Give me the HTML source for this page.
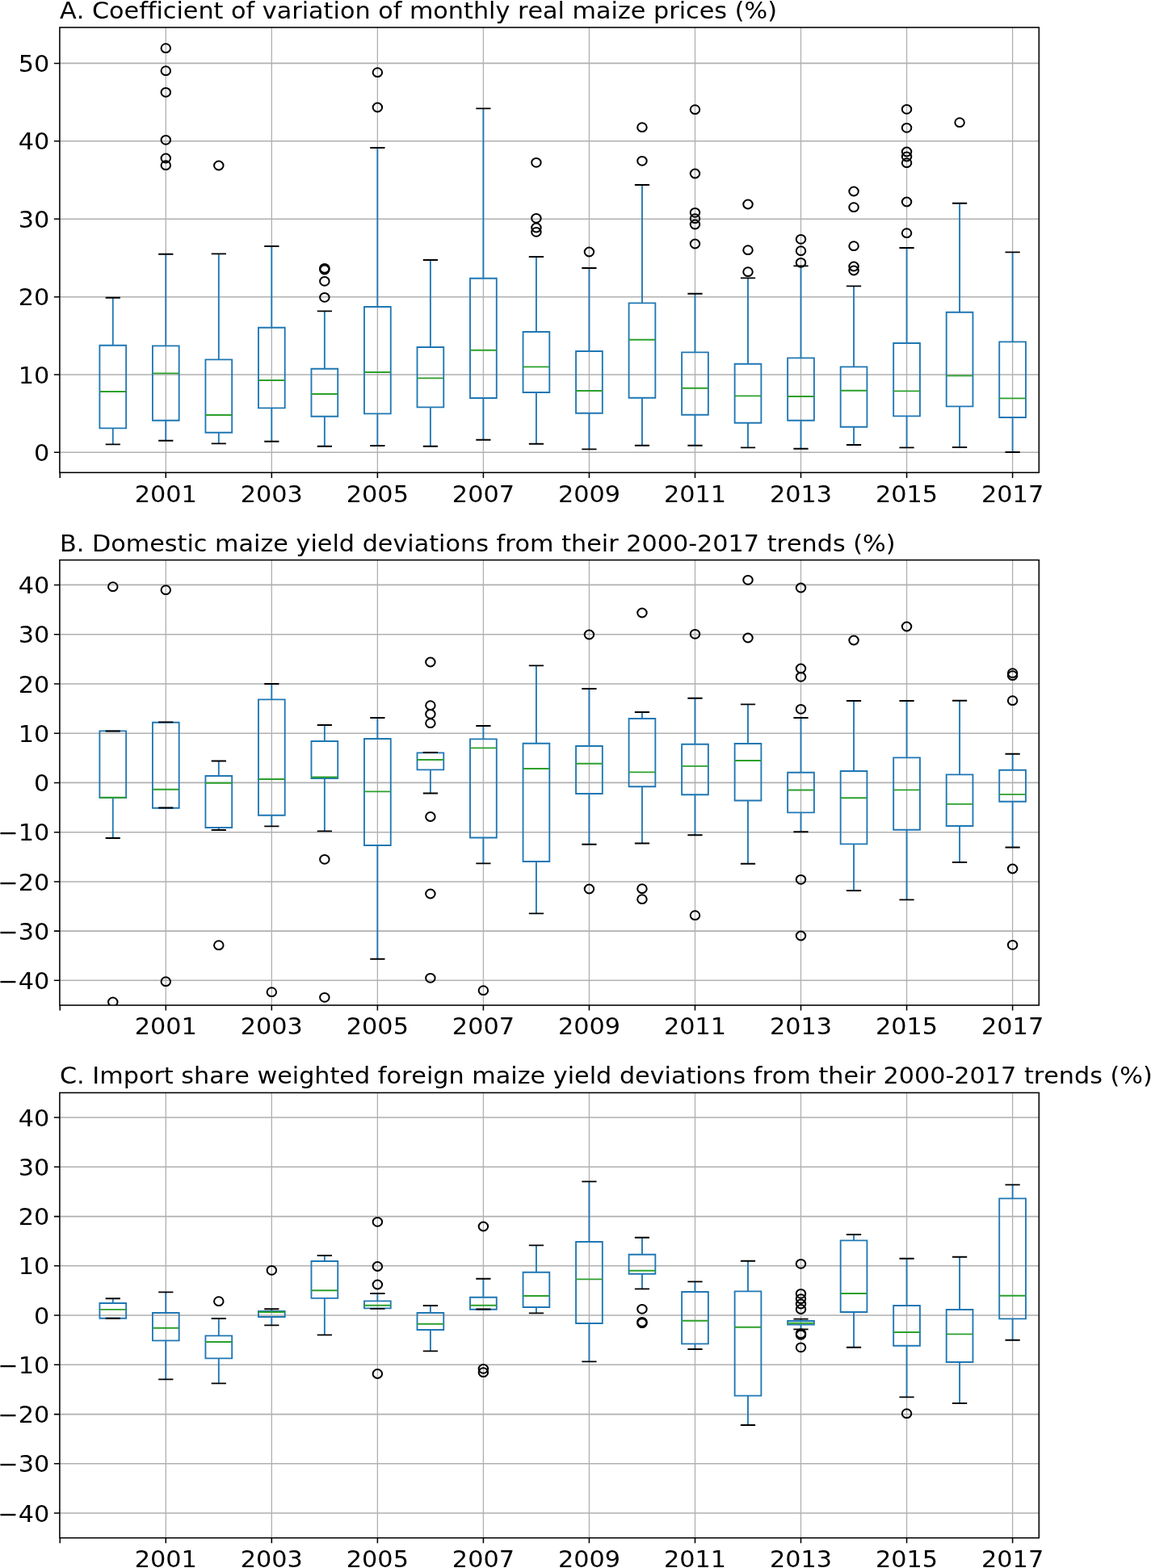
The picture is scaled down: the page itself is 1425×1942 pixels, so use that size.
<!DOCTYPE html>
<html lang="en"><head><meta charset="utf-8"><title>Maize price and yield boxplots</title>
<style>html,body{margin:0;padding:0;background:#fff}body{width:1425px;height:1942px;overflow:hidden}svg{display:block}text{font-family:"DejaVu Sans","Liberation Sans",sans-serif;font-size:28.5px;fill:#000;font-variant-ligatures:none;font-feature-settings:"liga" 0,"clig" 0;font-kerning:none}</style></head><body>
<svg width="1425" height="1942" viewBox="0 0 1425 1942">
<rect width="1425" height="1942" fill="#fff"/>
<g>
<clipPath id="clip0"><rect x="73.9" y="34" width="1212.4" height="551.3"/></clipPath>
<path d="M205.29 34V585.3M336.33 34V585.3M467.37 34V585.3M598.41 34V585.3M729.45 34V585.3M860.49 34V585.3M991.53 34V585.3M1122.57 34V585.3M1253.61 34V585.3" stroke="#b0b0b0" stroke-width="1.3" fill="none"/>
<path d="M73.9 560.3H1286.3M73.9 464H1286.3M73.9 367.7H1286.3M73.9 271.2H1286.3M73.9 174.8H1286.3M73.9 78.4H1286.3" stroke="#b0b0b0" stroke-width="1.6" fill="none"/>
<g clip-path="url(#clip0)" fill="none">
<path d="M123.39 530.3H156.15V427.7H123.39ZM139.77 530.3V550.3M139.77 427.7V368.7M188.91 520.7H221.67V428.3H188.91ZM205.29 520.7V545.7M205.29 428.3V314.7M254.43 535.7H287.19V445.3H254.43ZM270.81 535.7V549.3M270.81 445.3V314.3M319.95 505.3H352.71V405.7H319.95ZM336.33 505.3V546.7M336.33 405.7V305M385.47 515.7H418.23V456.7H385.47ZM401.85 515.7V552.7M401.85 456.7V385.3M450.99 512.3H483.75V380H450.99ZM467.37 512.3V552M467.37 380V183M516.51 504.3H549.27V430H516.51ZM532.89 504.3V552.7M532.89 430V322M582.03 493H614.79V344.7H582.03ZM598.41 493V544.7M598.41 344.7V134.3M647.55 486H680.31V411H647.55ZM663.93 486V549.7M663.93 411V318M713.07 511.7H745.83V435H713.07ZM729.45 511.7V556.3M729.45 435V332M778.59 492.7H811.35V375.3H778.59ZM794.97 492.7V551.7M794.97 375.3V229M844.11 513.7H876.87V436.3H844.11ZM860.49 513.7V551.7M860.49 436.3V363.7M909.63 523.7H942.39V450.7H909.63ZM926.01 523.7V554.3M926.01 450.7V344.3M975.15 520.7H1007.91V443.3H975.15ZM991.53 520.7V555.7M991.53 443.3V329.3M1040.67 528.7H1073.43V454.3H1040.67ZM1057.05 528.7V551M1057.05 454.3V354.3M1106.19 515.3H1138.95V425H1106.19ZM1122.57 515.3V554.3M1122.57 425V307M1171.71 503.3H1204.47V386.7H1171.71ZM1188.09 503.3V554M1188.09 386.7V251.7M1237.23 517H1269.99V423.3H1237.23ZM1253.61 517V560M1253.61 423.3V312.3" stroke="#1f77b4" stroke-width="1.85" stroke-linejoin="miter"/>
<path d="M131.58 550.3H147.96M131.58 368.7H147.96M197.1 545.7H213.48M197.1 314.7H213.48M262.62 549.3H279M262.62 314.3H279M328.14 546.7H344.52M328.14 305H344.52M393.66 552.7H410.04M393.66 385.3H410.04M459.18 552H475.56M459.18 183H475.56M524.7 552.7H541.08M524.7 322H541.08M590.22 544.7H606.6M590.22 134.3H606.6M655.74 549.7H672.12M655.74 318H672.12M721.26 556.3H737.64M721.26 332H737.64M786.78 551.7H803.16M786.78 229H803.16M852.3 551.7H868.68M852.3 363.7H868.68M917.82 554.3H934.2M917.82 344.3H934.2M983.34 555.7H999.72M983.34 329.3H999.72M1048.86 551H1065.24M1048.86 354.3H1065.24M1114.38 554.3H1130.76M1114.38 307H1130.76M1179.9 554H1196.28M1179.9 251.7H1196.28M1245.42 560H1261.8M1245.42 312.3H1261.8" stroke="#000" stroke-width="1.85" stroke-linecap="square"/>
<path d="M123.39 485H156.15M188.91 462.3H221.67M254.43 514H287.19M319.95 471H352.71M385.47 488H418.23M450.99 461H483.75M516.51 468.3H549.27M582.03 433.7H614.79M647.55 454.3H680.31M713.07 484H745.83M778.59 420.7H811.35M844.11 480.7H876.87M909.63 490.3H942.39M975.15 491H1007.91M1040.67 483.7H1073.43M1106.19 484.3H1138.95M1171.71 465.3H1204.47M1237.23 493.3H1269.99" stroke="#2ca02c" stroke-width="1.85"/>
<g stroke="#000" stroke-width="2.0"><ellipse cx="205.29" cy="59.7" rx="5.74" ry="5.4"/><ellipse cx="205.29" cy="87.7" rx="5.74" ry="5.4"/><ellipse cx="205.29" cy="114.3" rx="5.74" ry="5.4"/><ellipse cx="205.29" cy="173.3" rx="5.74" ry="5.4"/><ellipse cx="205.29" cy="196" rx="5.74" ry="5.4"/><ellipse cx="205.29" cy="204.7" rx="5.74" ry="5.4"/><ellipse cx="270.81" cy="205" rx="5.74" ry="5.4"/><ellipse cx="401.85" cy="332.3" rx="5.74" ry="5.4"/><ellipse cx="401.85" cy="334" rx="5.74" ry="5.4"/><ellipse cx="401.85" cy="348.3" rx="5.74" ry="5.4"/><ellipse cx="401.85" cy="368.3" rx="5.74" ry="5.4"/><ellipse cx="467.37" cy="89.7" rx="5.74" ry="5.4"/><ellipse cx="467.37" cy="133" rx="5.74" ry="5.4"/><ellipse cx="663.93" cy="201.3" rx="5.74" ry="5.4"/><ellipse cx="663.93" cy="270.3" rx="5.74" ry="5.4"/><ellipse cx="663.93" cy="282" rx="5.74" ry="5.4"/><ellipse cx="663.93" cy="287.3" rx="5.74" ry="5.4"/><ellipse cx="729.45" cy="312" rx="5.74" ry="5.4"/><ellipse cx="794.97" cy="157.7" rx="5.74" ry="5.4"/><ellipse cx="794.97" cy="199.3" rx="5.74" ry="5.4"/><ellipse cx="860.49" cy="135.7" rx="5.74" ry="5.4"/><ellipse cx="860.49" cy="215" rx="5.74" ry="5.4"/><ellipse cx="860.49" cy="263.3" rx="5.74" ry="5.4"/><ellipse cx="860.49" cy="270.7" rx="5.74" ry="5.4"/><ellipse cx="860.49" cy="278" rx="5.74" ry="5.4"/><ellipse cx="860.49" cy="302" rx="5.74" ry="5.4"/><ellipse cx="926.01" cy="253" rx="5.74" ry="5.4"/><ellipse cx="926.01" cy="309.7" rx="5.74" ry="5.4"/><ellipse cx="926.01" cy="336.7" rx="5.74" ry="5.4"/><ellipse cx="991.53" cy="296.3" rx="5.74" ry="5.4"/><ellipse cx="991.53" cy="310.7" rx="5.74" ry="5.4"/><ellipse cx="991.53" cy="325.3" rx="5.74" ry="5.4"/><ellipse cx="1057.05" cy="237" rx="5.74" ry="5.4"/><ellipse cx="1057.05" cy="256.7" rx="5.74" ry="5.4"/><ellipse cx="1057.05" cy="304.7" rx="5.74" ry="5.4"/><ellipse cx="1057.05" cy="330" rx="5.74" ry="5.4"/><ellipse cx="1057.05" cy="335" rx="5.74" ry="5.4"/><ellipse cx="1122.57" cy="135.3" rx="5.74" ry="5.4"/><ellipse cx="1122.57" cy="158.3" rx="5.74" ry="5.4"/><ellipse cx="1122.57" cy="188" rx="5.74" ry="5.4"/><ellipse cx="1122.57" cy="194" rx="5.74" ry="5.4"/><ellipse cx="1122.57" cy="201.7" rx="5.74" ry="5.4"/><ellipse cx="1122.57" cy="250" rx="5.74" ry="5.4"/><ellipse cx="1122.57" cy="288.7" rx="5.74" ry="5.4"/><ellipse cx="1188.09" cy="151.7" rx="5.74" ry="5.4"/></g>
</g>
<rect x="73.9" y="34" width="1212.4" height="551.3" fill="none" stroke="#000" stroke-width="1.55"/>
<path d="M74.25 585.3v6.58M205.29 585.3v6.58M336.33 585.3v6.58M467.37 585.3v6.58M598.41 585.3v6.58M729.45 585.3v6.58M860.49 585.3v6.58M991.53 585.3v6.58M1122.57 585.3v6.58M1253.61 585.3v6.58M73.9 560.3h-7M73.9 464h-7M73.9 367.7h-7M73.9 271.2h-7M73.9 174.8h-7M73.9 78.4h-7" stroke="#000" stroke-width="1.55" fill="none"/>
<text transform="translate(61.3,570.9) scale(1.063,1)" text-anchor="end">0</text>
<text transform="translate(61.3,474.6) scale(1.063,1)" text-anchor="end">10</text>
<text transform="translate(61.3,378.3) scale(1.063,1)" text-anchor="end">20</text>
<text transform="translate(61.3,281.8) scale(1.063,1)" text-anchor="end">30</text>
<text transform="translate(61.3,185.4) scale(1.063,1)" text-anchor="end">40</text>
<text transform="translate(61.3,89) scale(1.063,1)" text-anchor="end">50</text>
<text transform="translate(205.29,621.6) scale(1.063,1)" text-anchor="middle">2001</text>
<text transform="translate(336.33,621.6) scale(1.063,1)" text-anchor="middle">2003</text>
<text transform="translate(467.37,621.6) scale(1.063,1)" text-anchor="middle">2005</text>
<text transform="translate(598.41,621.6) scale(1.063,1)" text-anchor="middle">2007</text>
<text transform="translate(729.45,621.6) scale(1.063,1)" text-anchor="middle">2009</text>
<text transform="translate(860.49,621.6) scale(1.063,1)" text-anchor="middle">2011</text>
<text transform="translate(991.53,621.6) scale(1.063,1)" text-anchor="middle">2013</text>
<text transform="translate(1122.57,621.6) scale(1.063,1)" text-anchor="middle">2015</text>
<text transform="translate(1253.61,621.6) scale(1.063,1)" text-anchor="middle">2017</text>
<text transform="translate(74,22.6) scale(1.0615,1)" text-anchor="start">A. Coefficient of variation of monthly real maize prices (%)</text>
</g>
<g>
<clipPath id="clip1"><rect x="73.9" y="693.6" width="1212.4" height="551.4"/></clipPath>
<path d="M205.29 693.6V1245M336.33 693.6V1245M467.37 693.6V1245M598.41 693.6V1245M729.45 693.6V1245M860.49 693.6V1245M991.53 693.6V1245M1122.57 693.6V1245M1253.61 693.6V1245" stroke="#b0b0b0" stroke-width="1.3" fill="none"/>
<path d="M73.9 1214.3H1286.3M73.9 1153.1H1286.3M73.9 1092H1286.3M73.9 1030.7H1286.3M73.9 969.4H1286.3M73.9 908.2H1286.3M73.9 847H1286.3M73.9 785.8H1286.3M73.9 724.4H1286.3" stroke="#b0b0b0" stroke-width="1.6" fill="none"/>
<g clip-path="url(#clip1)" fill="none">
<path d="M123.39 988H156.15V905.3H123.39ZM139.77 988V1038M139.77 905.3V905.5M188.91 1000.7H221.67V894.7H188.91ZM205.29 1000.7V1000.5M205.29 894.7V894.3M254.43 1025H287.19V961H254.43ZM270.81 1025V1028M270.81 961V942.5M319.95 1009.7H352.71V866.3H319.95ZM336.33 1009.7V1023.3M336.33 866.3V847M385.47 964H418.23V918H385.47ZM401.85 964V1029.3M401.85 918V898M450.99 1047H483.75V915H450.99ZM467.37 1047V1187.7M467.37 915V889M516.51 953.3H549.27V932.3H516.51ZM532.89 953.3V982.5M532.89 932.3V932M582.03 1037.5H614.79V915.3H582.03ZM598.41 1037.5V1069.3M598.41 915.3V899M647.55 1067H680.31V920.7H647.55ZM663.93 1067V1131.3M663.93 920.7V824.3M713.07 983H745.83V924H713.07ZM729.45 983V1045.7M729.45 924V853M778.59 974.2H811.35V890H778.59ZM794.97 974.2V1044.5M794.97 890V882M844.11 984.2H876.87V921.7H844.11ZM860.49 984.2V1034.2M860.49 921.7V864.7M909.63 991.5H942.39V921H909.63ZM926.01 991.5V1069.7M926.01 921V872.3M975.15 1006.3H1007.91V956.7H975.15ZM991.53 1006.3V1030.2M991.53 956.7V889M1040.67 1045.3H1073.43V955H1040.67ZM1057.05 1045.3V1103M1057.05 955V868M1106.19 1027.7H1138.95V938.3H1106.19ZM1122.57 1027.7V1114.3M1122.57 938.3V868M1171.71 1023H1204.47V959.3H1171.71ZM1188.09 1023V1068M1188.09 959.3V867.7M1237.23 992.7H1269.99V953.7H1237.23ZM1253.61 992.7V1049.5M1253.61 953.7V933.7" stroke="#1f77b4" stroke-width="1.85" stroke-linejoin="miter"/>
<path d="M131.58 1038H147.96M131.58 905.5H147.96M197.1 1000.5H213.48M197.1 894.3H213.48M262.62 1028H279M262.62 942.5H279M328.14 1023.3H344.52M328.14 847H344.52M393.66 1029.3H410.04M393.66 898H410.04M459.18 1187.7H475.56M459.18 889H475.56M524.7 982.5H541.08M524.7 932H541.08M590.22 1069.3H606.6M590.22 899H606.6M655.74 1131.3H672.12M655.74 824.3H672.12M721.26 1045.7H737.64M721.26 853H737.64M786.78 1044.5H803.16M786.78 882H803.16M852.3 1034.2H868.68M852.3 864.7H868.68M917.82 1069.7H934.2M917.82 872.3H934.2M983.34 1030.2H999.72M983.34 889H999.72M1048.86 1103H1065.24M1048.86 868H1065.24M1114.38 1114.3H1130.76M1114.38 868H1130.76M1179.9 1068H1196.28M1179.9 867.7H1196.28M1245.42 1049.5H1261.8M1245.42 933.7H1261.8" stroke="#000" stroke-width="1.85" stroke-linecap="square"/>
<path d="M123.39 987.7H156.15M188.91 977.7H221.67M254.43 969.7H287.19M319.95 965H352.71M385.47 962.5H418.23M450.99 980.3H483.75M516.51 941H549.27M582.03 926.3H614.79M647.55 952H680.31M713.07 945.7H745.83M778.59 956.3H811.35M844.11 948.8H876.87M909.63 942H942.39M975.15 978.5H1007.91M1040.67 988.2H1073.43M1106.19 978.3H1138.95M1171.71 995.8H1204.47M1237.23 983.8H1269.99" stroke="#2ca02c" stroke-width="1.85"/>
<g stroke="#000" stroke-width="2.0"><ellipse cx="139.77" cy="726.7" rx="5.74" ry="5.4"/><ellipse cx="139.77" cy="1241" rx="5.74" ry="5.4"/><ellipse cx="205.29" cy="730.7" rx="5.74" ry="5.4"/><ellipse cx="205.29" cy="1215.7" rx="5.74" ry="5.4"/><ellipse cx="270.81" cy="1170.7" rx="5.74" ry="5.4"/><ellipse cx="336.33" cy="1228.7" rx="5.74" ry="5.4"/><ellipse cx="401.85" cy="1064.3" rx="5.74" ry="5.4"/><ellipse cx="401.85" cy="1235.3" rx="5.74" ry="5.4"/><ellipse cx="532.89" cy="820" rx="5.74" ry="5.4"/><ellipse cx="532.89" cy="873.7" rx="5.74" ry="5.4"/><ellipse cx="532.89" cy="884.3" rx="5.74" ry="5.4"/><ellipse cx="532.89" cy="895.7" rx="5.74" ry="5.4"/><ellipse cx="532.89" cy="1011.5" rx="5.74" ry="5.4"/><ellipse cx="532.89" cy="1107" rx="5.74" ry="5.4"/><ellipse cx="532.89" cy="1211.3" rx="5.74" ry="5.4"/><ellipse cx="598.41" cy="1226.7" rx="5.74" ry="5.4"/><ellipse cx="729.45" cy="786" rx="5.74" ry="5.4"/><ellipse cx="729.45" cy="1101" rx="5.74" ry="5.4"/><ellipse cx="794.97" cy="759" rx="5.74" ry="5.4"/><ellipse cx="794.97" cy="1100.7" rx="5.74" ry="5.4"/><ellipse cx="794.97" cy="1113.7" rx="5.74" ry="5.4"/><ellipse cx="860.49" cy="785.3" rx="5.74" ry="5.4"/><ellipse cx="860.49" cy="1133.7" rx="5.74" ry="5.4"/><ellipse cx="926.01" cy="718.3" rx="5.74" ry="5.4"/><ellipse cx="926.01" cy="790" rx="5.74" ry="5.4"/><ellipse cx="991.53" cy="728" rx="5.74" ry="5.4"/><ellipse cx="991.53" cy="828" rx="5.74" ry="5.4"/><ellipse cx="991.53" cy="838.3" rx="5.74" ry="5.4"/><ellipse cx="991.53" cy="878.3" rx="5.74" ry="5.4"/><ellipse cx="991.53" cy="1089.3" rx="5.74" ry="5.4"/><ellipse cx="991.53" cy="1159" rx="5.74" ry="5.4"/><ellipse cx="1057.05" cy="793" rx="5.74" ry="5.4"/><ellipse cx="1122.57" cy="776" rx="5.74" ry="5.4"/><ellipse cx="1253.61" cy="833.7" rx="5.74" ry="5.4"/><ellipse cx="1253.61" cy="836.7" rx="5.74" ry="5.4"/><ellipse cx="1253.61" cy="867.7" rx="5.74" ry="5.4"/><ellipse cx="1253.61" cy="1076" rx="5.74" ry="5.4"/><ellipse cx="1253.61" cy="1170.3" rx="5.74" ry="5.4"/></g>
</g>
<rect x="73.9" y="693.6" width="1212.4" height="551.4" fill="none" stroke="#000" stroke-width="1.55"/>
<path d="M74.25 1245v6.58M205.29 1245v6.58M336.33 1245v6.58M467.37 1245v6.58M598.41 1245v6.58M729.45 1245v6.58M860.49 1245v6.58M991.53 1245v6.58M1122.57 1245v6.58M1253.61 1245v6.58M73.9 1214.3h-7M73.9 1153.1h-7M73.9 1092h-7M73.9 1030.7h-7M73.9 969.4h-7M73.9 908.2h-7M73.9 847h-7M73.9 785.8h-7M73.9 724.4h-7" stroke="#000" stroke-width="1.55" fill="none"/>
<text transform="translate(61.3,1224.9) scale(1.063,1)" text-anchor="end">−40</text>
<text transform="translate(61.3,1163.7) scale(1.063,1)" text-anchor="end">−30</text>
<text transform="translate(61.3,1102.6) scale(1.063,1)" text-anchor="end">−20</text>
<text transform="translate(61.3,1041.3) scale(1.063,1)" text-anchor="end">−10</text>
<text transform="translate(61.3,980) scale(1.063,1)" text-anchor="end">0</text>
<text transform="translate(61.3,918.8) scale(1.063,1)" text-anchor="end">10</text>
<text transform="translate(61.3,857.6) scale(1.063,1)" text-anchor="end">20</text>
<text transform="translate(61.3,796.4) scale(1.063,1)" text-anchor="end">30</text>
<text transform="translate(61.3,735) scale(1.063,1)" text-anchor="end">40</text>
<text transform="translate(205.29,1281.3) scale(1.063,1)" text-anchor="middle">2001</text>
<text transform="translate(336.33,1281.3) scale(1.063,1)" text-anchor="middle">2003</text>
<text transform="translate(467.37,1281.3) scale(1.063,1)" text-anchor="middle">2005</text>
<text transform="translate(598.41,1281.3) scale(1.063,1)" text-anchor="middle">2007</text>
<text transform="translate(729.45,1281.3) scale(1.063,1)" text-anchor="middle">2009</text>
<text transform="translate(860.49,1281.3) scale(1.063,1)" text-anchor="middle">2011</text>
<text transform="translate(991.53,1281.3) scale(1.063,1)" text-anchor="middle">2013</text>
<text transform="translate(1122.57,1281.3) scale(1.063,1)" text-anchor="middle">2015</text>
<text transform="translate(1253.61,1281.3) scale(1.063,1)" text-anchor="middle">2017</text>
<text transform="translate(74,682.6) scale(1.0615,1)" text-anchor="start">B. Domestic maize yield deviations from their 2000-2017 trends (%)</text>
</g>
<g>
<clipPath id="clip2"><rect x="73.9" y="1353.4" width="1212.4" height="551.3"/></clipPath>
<path d="M205.29 1353.4V1904.7M336.33 1353.4V1904.7M467.37 1353.4V1904.7M598.41 1353.4V1904.7M729.45 1353.4V1904.7M860.49 1353.4V1904.7M991.53 1353.4V1904.7M1122.57 1353.4V1904.7M1253.61 1353.4V1904.7" stroke="#b0b0b0" stroke-width="1.3" fill="none"/>
<path d="M73.9 1874H1286.3M73.9 1812.8H1286.3M73.9 1751.6H1286.3M73.9 1690.3H1286.3M73.9 1629H1286.3M73.9 1567.7H1286.3M73.9 1506.6H1286.3M73.9 1445.3H1286.3M73.9 1384H1286.3" stroke="#b0b0b0" stroke-width="1.6" fill="none"/>
<g clip-path="url(#clip2)" fill="none">
<path d="M123.39 1632.7H156.15V1614H123.39ZM139.77 1632.7V1632.7M139.77 1614V1608.2M188.91 1660.3H221.67V1626H188.91ZM205.29 1660.3V1708.3M205.29 1626V1600.3M254.43 1682.3H287.19V1654.3H254.43ZM270.81 1682.3V1713.3M270.81 1654.3V1633M319.95 1631H352.71V1624H319.95ZM336.33 1631V1641.3M336.33 1624V1621.2M385.47 1607.8H418.23V1562H385.47ZM401.85 1607.8V1653.3M401.85 1562V1555M450.99 1620.3H483.75V1611.3H450.99ZM467.37 1620.3V1620.8M467.37 1611.3V1602M516.51 1647H549.27V1626H516.51ZM532.89 1647V1673.3M532.89 1626V1617M582.03 1621.7H614.79V1606.7H582.03ZM598.41 1621.7V1621.5M598.41 1606.7V1583.7M647.55 1619H680.31V1575.7H647.55ZM663.93 1619V1626.3M663.93 1575.7V1542.3M713.07 1639H745.83V1538H713.07ZM729.45 1639V1686.3M729.45 1538V1463.3M778.59 1577.7H811.35V1553.7H778.59ZM794.97 1577.7V1596.3M794.97 1553.7V1532.7M844.11 1664.3H876.87V1600H844.11ZM860.49 1664.3V1671M860.49 1600V1587.3M909.63 1728.6H942.39V1599.3H909.63ZM926.01 1728.6V1765M926.01 1599.3V1561.7M975.15 1640.6H1007.91V1636H975.15ZM991.53 1640.6V1646.3M991.53 1636V1633.6M1040.67 1625H1073.43V1536.3H1040.67ZM1057.05 1625V1668.7M1057.05 1536.3V1529M1106.19 1666.7H1138.95V1617H1106.19ZM1122.57 1666.7V1730.3M1122.57 1617V1558.7M1171.71 1687H1204.47V1622H1171.71ZM1188.09 1687V1738M1188.09 1622V1556.7M1237.23 1633.3H1269.99V1484.3H1237.23ZM1253.61 1633.3V1659.7M1253.61 1484.3V1467.3" stroke="#1f77b4" stroke-width="1.85" stroke-linejoin="miter"/>
<path d="M131.58 1632.7H147.96M131.58 1608.2H147.96M197.1 1708.3H213.48M197.1 1600.3H213.48M262.62 1713.3H279M262.62 1633H279M328.14 1641.3H344.52M328.14 1621.2H344.52M393.66 1653.3H410.04M393.66 1555H410.04M459.18 1620.8H475.56M459.18 1602H475.56M524.7 1673.3H541.08M524.7 1617H541.08M590.22 1621.5H606.6M590.22 1583.7H606.6M655.74 1626.3H672.12M655.74 1542.3H672.12M721.26 1686.3H737.64M721.26 1463.3H737.64M786.78 1596.3H803.16M786.78 1532.7H803.16M852.3 1671H868.68M852.3 1587.3H868.68M917.82 1765H934.2M917.82 1561.7H934.2M983.34 1646.3H999.72M983.34 1633.6H999.72M1048.86 1668.7H1065.24M1048.86 1529H1065.24M1114.38 1730.3H1130.76M1114.38 1558.7H1130.76M1179.9 1738H1196.28M1179.9 1556.7H1196.28M1245.42 1659.7H1261.8M1245.42 1467.3H1261.8" stroke="#000" stroke-width="1.85" stroke-linecap="square"/>
<path d="M123.39 1621.8H156.15M188.91 1644.7H221.67M254.43 1662H287.19M319.95 1625H352.71M385.47 1598.2H418.23M450.99 1616.7H483.75M516.51 1639.7H549.27M582.03 1616.7H614.79M647.55 1605H680.31M713.07 1584.3H745.83M778.59 1573.7H811.35M844.11 1635.7H876.87M909.63 1643.7H942.39M975.15 1638.7H1007.91M1040.67 1602H1073.43M1106.19 1650H1138.95M1171.71 1652.3H1204.47M1237.23 1604.7H1269.99" stroke="#2ca02c" stroke-width="1.85"/>
<g stroke="#000" stroke-width="2.0"><ellipse cx="270.81" cy="1611.7" rx="5.74" ry="5.4"/><ellipse cx="336.33" cy="1573.3" rx="5.74" ry="5.4"/><ellipse cx="467.37" cy="1513.3" rx="5.74" ry="5.4"/><ellipse cx="467.37" cy="1568.5" rx="5.74" ry="5.4"/><ellipse cx="467.37" cy="1591" rx="5.74" ry="5.4"/><ellipse cx="467.37" cy="1701.5" rx="5.74" ry="5.4"/><ellipse cx="598.41" cy="1519" rx="5.74" ry="5.4"/><ellipse cx="598.41" cy="1695.3" rx="5.74" ry="5.4"/><ellipse cx="598.41" cy="1699.7" rx="5.74" ry="5.4"/><ellipse cx="794.97" cy="1621.3" rx="5.74" ry="5.4"/><ellipse cx="794.97" cy="1637.3" rx="5.74" ry="5.4"/><ellipse cx="794.97" cy="1638.7" rx="5.74" ry="5.4"/><ellipse cx="991.53" cy="1565.3" rx="5.74" ry="5.4"/><ellipse cx="991.53" cy="1602.3" rx="5.74" ry="5.4"/><ellipse cx="991.53" cy="1608.6" rx="5.74" ry="5.4"/><ellipse cx="991.53" cy="1615" rx="5.74" ry="5.4"/><ellipse cx="991.53" cy="1621.5" rx="5.74" ry="5.4"/><ellipse cx="991.53" cy="1651.6" rx="5.74" ry="5.4"/><ellipse cx="991.53" cy="1653.2" rx="5.74" ry="5.4"/><ellipse cx="991.53" cy="1668.8" rx="5.74" ry="5.4"/><ellipse cx="1122.57" cy="1750.7" rx="5.74" ry="5.4"/></g>
</g>
<rect x="73.9" y="1353.4" width="1212.4" height="551.3" fill="none" stroke="#000" stroke-width="1.55"/>
<path d="M74.25 1904.7v6.58M205.29 1904.7v6.58M336.33 1904.7v6.58M467.37 1904.7v6.58M598.41 1904.7v6.58M729.45 1904.7v6.58M860.49 1904.7v6.58M991.53 1904.7v6.58M1122.57 1904.7v6.58M1253.61 1904.7v6.58M73.9 1874h-7M73.9 1812.8h-7M73.9 1751.6h-7M73.9 1690.3h-7M73.9 1629h-7M73.9 1567.7h-7M73.9 1506.6h-7M73.9 1445.3h-7M73.9 1384h-7" stroke="#000" stroke-width="1.55" fill="none"/>
<text transform="translate(61.3,1884.6) scale(1.063,1)" text-anchor="end">−40</text>
<text transform="translate(61.3,1823.4) scale(1.063,1)" text-anchor="end">−30</text>
<text transform="translate(61.3,1762.2) scale(1.063,1)" text-anchor="end">−20</text>
<text transform="translate(61.3,1700.9) scale(1.063,1)" text-anchor="end">−10</text>
<text transform="translate(61.3,1639.6) scale(1.063,1)" text-anchor="end">0</text>
<text transform="translate(61.3,1578.3) scale(1.063,1)" text-anchor="end">10</text>
<text transform="translate(61.3,1517.2) scale(1.063,1)" text-anchor="end">20</text>
<text transform="translate(61.3,1455.9) scale(1.063,1)" text-anchor="end">30</text>
<text transform="translate(61.3,1394.6) scale(1.063,1)" text-anchor="end">40</text>
<text transform="translate(205.29,1941) scale(1.063,1)" text-anchor="middle">2001</text>
<text transform="translate(336.33,1941) scale(1.063,1)" text-anchor="middle">2003</text>
<text transform="translate(467.37,1941) scale(1.063,1)" text-anchor="middle">2005</text>
<text transform="translate(598.41,1941) scale(1.063,1)" text-anchor="middle">2007</text>
<text transform="translate(729.45,1941) scale(1.063,1)" text-anchor="middle">2009</text>
<text transform="translate(860.49,1941) scale(1.063,1)" text-anchor="middle">2011</text>
<text transform="translate(991.53,1941) scale(1.063,1)" text-anchor="middle">2013</text>
<text transform="translate(1122.57,1941) scale(1.063,1)" text-anchor="middle">2015</text>
<text transform="translate(1253.61,1941) scale(1.063,1)" text-anchor="middle">2017</text>
<text transform="translate(74,1342.4) scale(1.0615,1)" text-anchor="start">C. Import share weighted foreign maize yield deviations from their 2000-2017 trends (%)</text>
</g>
</svg></body></html>
